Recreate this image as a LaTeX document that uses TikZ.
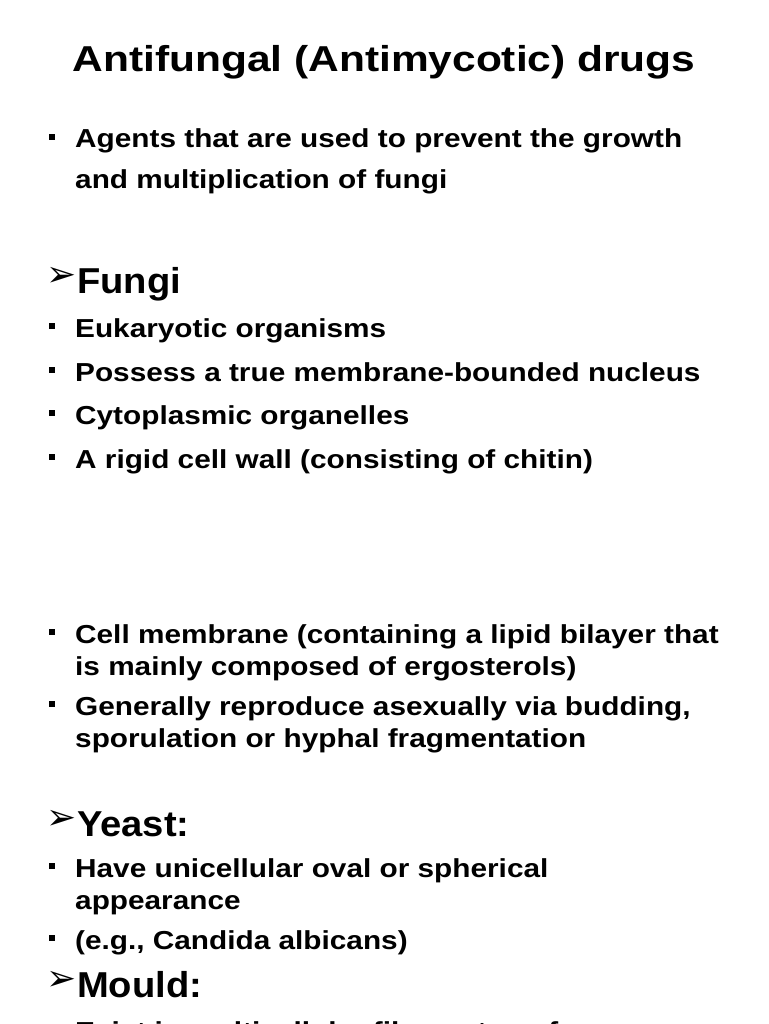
\documentclass[tikz,border=0pt]{standalone}
\usepackage{fontspec}
\setmainfont{Liberation Sans}
\newfontfamily\bodyf[FakeStretch=1.145]{Liberation Sans}
\newfontfamily\headf[FakeStretch=1.06]{Liberation Sans}
\newfontfamily\titlef[FakeStretch=1.18]{Liberation Sans}
\newfontfamily\symf{DejaVu Sans}
\begin{document}
\begin{tikzpicture}[x=1pt,y=-1pt,
  txt/.style={anchor=base west,inner sep=0pt,font=\bodyf\fontsize{26}{30}\selectfont\bfseries},
  head/.style={anchor=base west,inner sep=0pt,font=\headf\fontsize{36}{40}\selectfont\bfseries},
  sq/.style={fill=black,minimum size=6.5pt,inner sep=0pt,draw=none}]
\useasboundingbox (0,0) rectangle (768,1024);
\clip (0,0) rectangle (768,1024);
\node[anchor=base,inner sep=0pt,font=\titlef\fontsize{36}{40}\selectfont\bfseries] (title) at (384,72) {Antifungal (Antimycotic) drugs};
\foreach \n/\y/\t in {b1/148/{Agents that are used to prevent the growth},
  b3/337/{Eukaryotic organisms},b4/381/{Possess a true membrane-bounded nucleus},
  b5/424/{Cytoplasmic organelles},b6/468/{A rigid cell wall (consisting of chitin)},
  b7/643/{Cell membrane (containing a lipid bilayer that},
  b8/715/{Generally reproduce asexually via budding,},
  b9/877/{Have unicellular oval or spherical},
  b10/949/{(e.g., Candida albicans)},
  b11/1040/{Exist in multicellular filamentous forms}}{
  \node[txt] (\n) at (75,\y) {\t};
  \node[sq] (s\n) at (52,\y-11) {};
}
\foreach \n/\y/\t in {c1/189/{and multiplication of fungi},c7/675/{is mainly composed of ergosterols)},
  c8/747/{sporulation or hyphal fragmentation},c9/909/{appearance}}{
  \node[txt] (\n) at (75,\y) {\t};
}
\foreach \n/\y/\t in {h1/293/{Fungi},h2/836/{Yeast:},h3/997/{Mould:}}{
  \node[head] (\n) at (77,\y) {\t};
  \node[anchor=base east,inner sep=0pt,font=\symf\bfseries\fontsize{36}{40}\selectfont] (a\n) at (77,\y-7) {➢};
}
\end{tikzpicture}
\end{document}
